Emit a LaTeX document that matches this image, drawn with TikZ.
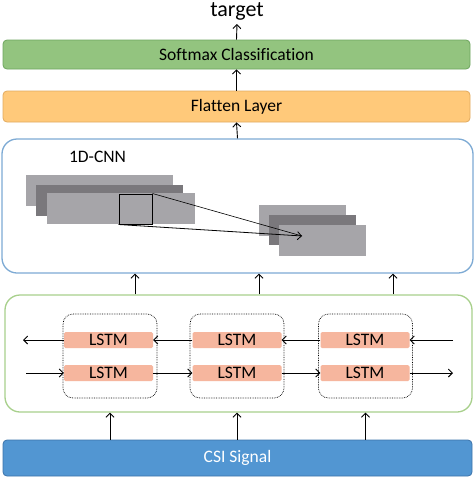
\documentclass[tikz,border=0pt]{standalone}
\usepackage{fontspec}
\setmainfont{Carlito}[Ligatures=NoCommon]
\usetikzlibrary{shapes}
\usetikzlibrary{positioning}
\usetikzlibrary{arrows.meta}

\definecolor{softgreen}{RGB}{147,196,127}
\definecolor{softgreenline}{RGB}{110,165,95}
\definecolor{flatorange}{RGB}{255,201,122}
\definecolor{flatorangeline}{RGB}{225,170,95}
\definecolor{cnnblue}{RGB}{125,170,212}
\definecolor{lstmgreen}{RGB}{168,208,140}
\definecolor{lstmfill}{RGB}{246,182,158}
\definecolor{csiblue}{RGB}{82,150,210}
\definecolor{csiline}{RGB}{60,115,170}
\definecolor{maplight}{RGB}{166,165,169}
\definecolor{mapdark}{RGB}{122,120,124}

\begin{document}
\begin{tikzpicture}[x=1pt,y=-1pt]
		\tikzstyle{every node}=[font=\fontsize{17.5}{20}\selectfont, inner sep=0pt];
		\tikzstyle{layer}=[draw, rounded corners=4pt, line width=0.8pt, minimum width=467pt];
		\tikzstyle{bigbox}=[draw, rounded corners=15pt, line width=1.3pt, fill=white];
		\tikzstyle{cell}=[draw, densely dotted, rounded corners=10pt, line width=0.7pt, minimum width=94pt, minimum height=84pt];
		\tikzstyle{lstm}=[fill=lstmfill, rounded corners=1.5pt, minimum width=89pt, minimum height=16pt];
		\tikzstyle{arr}=[-{Straight Barb[length=4pt,width=8pt]}, line width=0.9pt];
		\useasboundingbox (0,0) rectangle (474,477);
		% layers
		\path (237,16.5) node[anchor=base] (target) {\fontsize{22}{25}\selectfont target};
		\path (236.5,54.5) node[layer, fill=softgreen, draw=softgreenline, minimum height=29pt] (softmax) {Softmax Classification};
		\path (236.5,106.5) node[layer, fill=flatorange, draw=flatorangeline, minimum height=31pt] (flatten) {Flatten Layer};
		\path (237.5,206) node[bigbox, draw=cnnblue, minimum width=471pt, minimum height=134pt] (cnn) {};
		\path (238.5,353.5) node[bigbox, draw=lstmgreen, minimum width=467pt, minimum height=117pt] (lstmbox) {};
		\path (237.5,458) node[layer, fill=csiblue, draw=csiline, minimum width=469pt, minimum height=36pt, text=white] (csi) {CSI Signal};
		% 1D-CNN
		\path (97.5,157) node (cnnlabel) {1D-CNN};
		\fill[maplight] (26,175) rectangle (173,206);
		\fill[mapdark] (36,185) rectangle (183,216);
		\fill[maplight] (47,193) rectangle (195,224);
		\fill[maplight] (259,205) rectangle (346,236);
		\fill[mapdark] (269,215) rectangle (356,245);
		\fill[maplight] (279,225) rectangle (366,256);
		\path (135.5,209) node[draw, line width=1pt, minimum width=33pt, minimum height=30pt] (kernel) {};
		\coordinate (tip) at (302,236);
		\draw[line width=0.6pt] (kernel.north east) -- (tip);
		\draw[arr, line width=0.8pt] (kernel.south west) -- (tip);
		% Bi-LSTM cells
		\path (110,356)   node[cell] (cell1) {};
		\path (237,356)   node[cell] (cell2) {};
		\path (365.5,356) node[cell] (cell3) {};
		\path (108.5,340) node[lstm] (bw1) {LSTM};
		\path (237,340)   node[lstm] (bw2) {LSTM};
		\path (365,340)   node[lstm] (bw3) {LSTM};
		\path (108.5,373) node[lstm] (fw1) {LSTM};
		\path (237,373)   node[lstm] (fw2) {LSTM};
		\path (365,373)   node[lstm] (fw3) {LSTM};
		\coordinate (bwin) at (453,340);
		\coordinate (bwout) at (23,340);
		\coordinate (fwin) at (26,373);
		\coordinate (fwout) at (453,373);
		\draw[arr] (bwin) -- (bw3.east);
		\draw[arr] (bw3.west) -- (bw2.east);
		\draw[arr] (bw2.west) -- (bw1.east);
		\draw[arr] (bw1.west) -- (bwout);
		\draw[arr] (fwin) -- (fw1.west);
		\draw[arr] (fw1.east) -- (fw2.west);
		\draw[arr] (fw2.east) -- (fw3.west);
		\draw[arr] (fw3.east) -- (fwout);
		% connections between layers
		\coordinate (up1) at (135,0);
		\coordinate (up2) at (259,0);
		\coordinate (up3) at (393,0);
		\coordinate (top) at (237,24);
		\foreach \u in {up1,up2,up3}
			\draw[arr] (lstmbox.north -| \u) -- (cnn.south -| \u);
		\foreach \c in {cell1,cell2,cell3}
			\draw[arr] (csi.north -| \c) -- (lstmbox.south -| \c);
		\draw[arr] (cnn.north) -- (flatten.south);
		\draw[arr] (flatten.north) -- (softmax.south);
		\draw[arr] (softmax.north) -- (top);
\end{tikzpicture}
\end{document}
